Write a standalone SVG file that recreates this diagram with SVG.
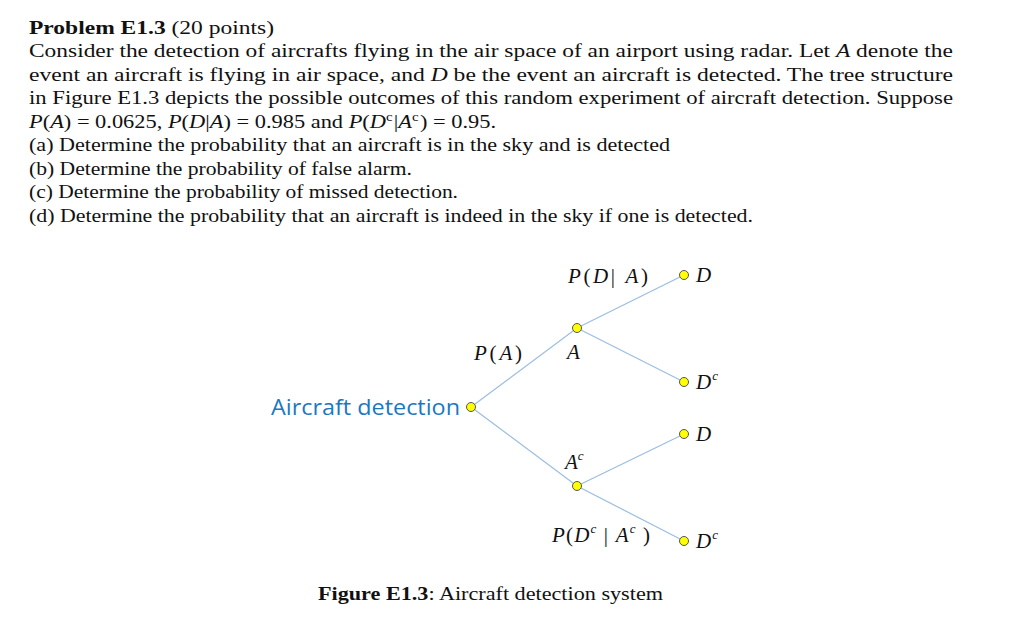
<svg xmlns="http://www.w3.org/2000/svg" width="1024" height="623" viewBox="0 0 1024 623">
<style>
.t{font-family:"Liberation Serif",serif;font-size:18px;fill:#111}
.b{font-weight:bold}
.m{font-family:"Liberation Serif",serif;font-style:italic;font-size:21px;fill:#111}
.e{stroke:#9bbde0;stroke-width:1.2;fill:none}
.n{fill:#ffff00;stroke:#555;stroke-width:1}
</style>
<rect width="1024" height="623" fill="#fff"/>
<g id="text">
<text class="t" x="29" y="34" textLength="245" lengthAdjust="spacingAndGlyphs"><tspan class="b">Problem E1.3</tspan> (20 points)</text>
<text class="t" x="29" y="57" textLength="924" lengthAdjust="spacingAndGlyphs">Consider the detection of aircrafts flying in the air space of an airport using radar.  Let <tspan font-style="italic">A</tspan> denote the</text>
<text class="t" x="29" y="81" textLength="924" lengthAdjust="spacingAndGlyphs">event an aircraft is flying in air space, and <tspan font-style="italic">D</tspan> be the event an aircraft is detected.  The tree structure</text>
<text class="t" x="29" y="104" textLength="924" lengthAdjust="spacingAndGlyphs">in Figure E1.3 depicts the possible outcomes of this random experiment of aircraft detection.  Suppose</text>
<text class="t" x="29" y="128" textLength="467" lengthAdjust="spacingAndGlyphs"><tspan font-style="italic">P</tspan>(<tspan font-style="italic">A</tspan>) = 0.0625, <tspan font-style="italic">P</tspan>(<tspan font-style="italic">D</tspan>|<tspan font-style="italic">A</tspan>) = 0.985 and <tspan font-style="italic">P</tspan>(<tspan font-style="italic">D</tspan><tspan font-size="12" dy="-7">c</tspan><tspan dy="7" dx="1">|</tspan><tspan font-style="italic">A</tspan><tspan font-size="12" dy="-7">c</tspan><tspan dy="7" dx="1">) = 0.95.</tspan></text>
<text class="t" x="29" y="151" textLength="641" lengthAdjust="spacingAndGlyphs">(a) Determine the probability that an aircraft is in the sky and is detected</text>
<text class="t" x="29" y="175" textLength="383" lengthAdjust="spacingAndGlyphs">(b) Determine the probability of false alarm.</text>
<text class="t" x="29" y="198" textLength="429" lengthAdjust="spacingAndGlyphs">(c) Determine the probability of missed detection.</text>
<text class="t" x="29" y="222" textLength="724" lengthAdjust="spacingAndGlyphs">(d) Determine the probability that an aircraft is indeed in the sky if one is detected.</text>
<text class="t" x="318" y="600" textLength="345" lengthAdjust="spacingAndGlyphs"><tspan class="b">Figure E1.3</tspan>: Aircraft detection system</text>
</g>
<g id="connectors">
<line class="e" x1="471" y1="407" x2="577" y2="328"/>
<line class="e" x1="471" y1="407" x2="577" y2="486"/>
<line class="e" x1="577" y1="328" x2="684" y2="275"/>
<line class="e" x1="577" y1="328" x2="684" y2="382"/>
<line class="e" x1="577" y1="486" x2="684" y2="434"/>
<line class="e" x1="577" y1="486" x2="684" y2="541"/>
</g>
<g id="root"><circle class="n" cx="471" cy="407" r="4.5"/><text x="271" y="415" font-family="Open Sans, sans-serif" font-size="21" fill="#1a78c2" textLength="189" lengthAdjust="spacingAndGlyphs">Aircraft detection</text></g>
<g id="nodeA"><circle class="n" cx="577" cy="328" r="4.5"/><text class="m" x="567" y="359">A</text></g>
<g id="nodeAc"><circle class="n" cx="577" cy="486" r="4.5"/><text class="m" x="565" y="469">A<tspan font-size="13" dy="-9">c</tspan></text></g>
<g id="leaf1"><circle class="n" cx="684" cy="275" r="4.5"/><text class="m" x="696" y="282">D</text></g>
<g id="leaf2"><circle class="n" cx="684" cy="382" r="4.5"/><text class="m" x="696" y="389">D<tspan font-size="13" dy="-9" dx="1">c</tspan></text></g>
<g id="leaf3"><circle class="n" cx="684" cy="434" r="4.5"/><text class="m" x="696" y="441">D</text></g>
<g id="leaf4"><circle class="n" cx="684" cy="541" r="4.5"/><text class="m" x="696" y="548">D<tspan font-size="13" dy="-9" dx="1">c</tspan></text></g>
<g id="labels">
<text class="m" x="568" y="283" textLength="80" lengthAdjust="spacing">P<tspan font-style="normal">(</tspan>D<tspan font-style="normal">| </tspan>A<tspan font-style="normal">)</tspan></text>
<text class="m" x="474" y="360" textLength="48" lengthAdjust="spacing">P<tspan font-style="normal">(</tspan>A<tspan font-style="normal">)</tspan></text>
<text class="m" x="552" y="542" textLength="98" lengthAdjust="spacing">P<tspan font-style="normal">(</tspan>D<tspan font-size="13" dy="-9">c</tspan><tspan font-style="normal" dy="9"> | </tspan>A<tspan font-size="13" dy="-9">c</tspan><tspan font-style="normal" dy="9"> )</tspan></text>
</g>
</svg>
